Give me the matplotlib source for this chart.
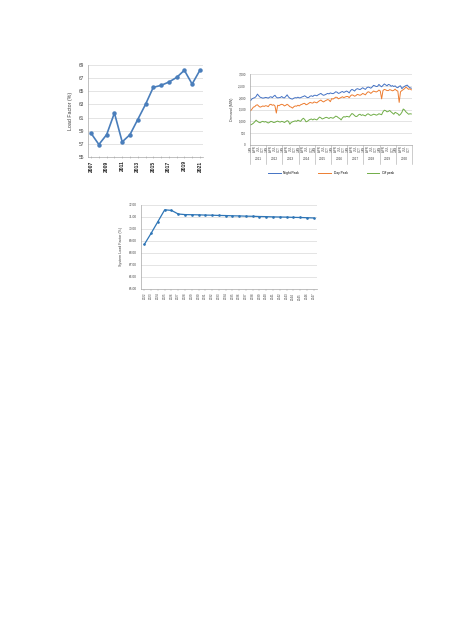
import matplotlib
matplotlib.use('Agg')
import matplotlib.pyplot as plt
import matplotlib.transforms as mtransforms
from matplotlib.ticker import FuncFormatter, MultipleLocator
import numpy as np

plt.rcParams['font.family'] = ['Liberation Sans', 'DejaVu Sans']

# --- chart 1: historic load factor
lf_years = list(range(2007, 2022))
lf_values = [58.6, 56.9, 58.4, 61.7, 57.3, 58.4, 60.7, 63.0, 65.6, 65.9,
             66.4, 67.1, 68.2, 66.1, 68.2]

# --- chart 2: monthly demand 2011-2020
dem_years = list(range(2011, 2021))
month_labels = ['JAN', 'APR', 'JUL', 'OCT']
night_peak = [
    1880, 1950, 1980, 2000, 2050, 2150, 2080, 2020, 2000, 1980, 1990, 2010,
    2000, 1980, 2020, 2040, 2000, 2060, 2100, 2020, 1990, 2000, 2010, 2050,
    2000, 1990, 2050, 2120, 2030, 1980, 1950, 1940, 1980, 2000, 1990, 2020,
    1990, 2000, 2030, 2050, 2080, 2040, 2000, 2010, 2060, 2080, 2050, 2100,
    2100, 2080, 2120, 2150, 2180, 2130, 2100, 2120, 2150, 2180, 2160, 2200,
    2180, 2170, 2200, 2250, 2230, 2180, 2200, 2240, 2260, 2220, 2250, 2280,
    2250, 2200, 2300, 2350, 2320, 2280, 2350, 2380, 2360, 2340, 2380, 2420,
    2380, 2350, 2420, 2450, 2430, 2400, 2450, 2520, 2500, 2470, 2480, 2560,
    2500, 2460, 2520, 2580, 2540, 2500, 2560, 2540, 2480, 2510, 2470, 2500,
    2440, 2420, 2480, 2500, 2380, 2440, 2480, 2510, 2530, 2460, 2420, 2400,
]
day_peak = [
    1450, 1520, 1600, 1620, 1680, 1700, 1640, 1600, 1620, 1650, 1630, 1660,
    1650, 1620, 1700, 1720, 1680, 1700, 1650, 1350, 1680, 1660, 1700, 1720,
    1700, 1650, 1680, 1720, 1680, 1620, 1600, 1560, 1620, 1650, 1640, 1680,
    1650, 1700, 1720, 1750, 1760, 1700, 1720, 1760, 1800, 1780, 1770, 1820,
    1800, 1780, 1830, 1870, 1900, 1850, 1820, 1860, 1890, 1920, 1900, 1830,
    1960, 1940, 1980, 2020, 2010, 1950, 1980, 2010, 2040, 2000, 2030, 2050,
    2050, 2000, 2080, 2120, 2100, 2060, 2090, 2140, 2120, 2100, 2130, 2180,
    2150, 2120, 2200, 2250, 2230, 2180, 2230, 2280, 2260, 2240, 2270, 2320,
    2280, 1950, 2300, 2350, 2330, 2300, 2300, 2340, 2320, 2290, 2310, 2360,
    2300, 2280, 1800, 2250, 2300, 2340, 2380, 2450, 2400, 2350, 2380, 2330,
]
off_peak = [
    850, 880, 920, 980, 1050, 1000, 960, 940, 980, 1000, 970, 990,
    960, 930, 960, 1000, 980, 950, 960, 990, 1010, 980, 970, 1000,
    980, 950, 990, 1030, 1000, 880, 950, 980, 1000, 1020, 1000, 1050,
    1020, 1000, 1080, 1130, 1080, 980, 1000, 1050, 1080, 1100, 1060, 1100,
    1080, 1060, 1120, 1180, 1150, 1100, 1120, 1150, 1170, 1150, 1120, 1160,
    1150, 1130, 1170, 1220, 1200, 1150, 1120, 1060, 1150, 1200, 1180, 1210,
    1200, 1180, 1260, 1330, 1300, 1240, 1200, 1220, 1280, 1300, 1250, 1280,
    1250, 1230, 1290, 1320, 1280, 1250, 1270, 1300, 1290, 1260, 1280, 1320,
    1300, 1280, 1400, 1470, 1450, 1400, 1420, 1460, 1400, 1350, 1300, 1380,
    1350, 1320, 1250, 1300, 1380, 1520, 1480, 1400, 1350, 1300, 1320, 1310,
]

# --- chart 3: projected system load factor
sys_years = list(range(2022, 2048))
sys_lf = [68.72, 69.65, 70.62, 71.60, 71.55, 71.25, 71.20, 71.19, 71.18,
          71.16, 71.15, 71.13, 71.12, 71.10, 71.09, 71.07, 71.06, 71.04,
          71.03, 71.01, 71.00, 70.99, 70.97, 70.96, 70.94, 70.92]

W, H = 474, 632
fig = plt.figure(figsize=(W / 100, H / 100), dpi=100)
fig.patch.set_facecolor('white')

GRID = '#d9d9d9'
AXC = '#a6a6a6'
TXT = '#404040'


def box(l, t, r, b):
    return [l / W, 1 - b / H, (r - l) / W, (b - t) / H]


def style(ax):
    for s in ('top', 'right'):
        ax.spines[s].set_visible(False)
    ax.spines['left'].set_color(AXC)
    ax.spines['bottom'].set_color(AXC)
    ax.spines['left'].set_linewidth(0.5)
    ax.spines['bottom'].set_linewidth(0.5)
    ax.yaxis.grid(True, color=GRID, linewidth=0.5)
    ax.set_axisbelow(True)


# chart 1
ax1 = fig.add_axes(box(88, 65, 203, 157))
style(ax1)
ax1.plot(lf_years, lf_values, color='#4a7ebb', lw=1.2, marker='o', ms=2.2)
ax1.set_ylim(55, 69)
ax1.set_yticks(range(55, 70, 2))
ax1.set_xlim(2006.6, 2021.4)
ax1.set_xticks(lf_years[::2])
ax1.xaxis.set_minor_locator(MultipleLocator(1))
ax1.tick_params(axis='x', which='both', direction='inout', length=2, width=0.4,
                color=AXC, labelsize=3.6, labelrotation=90, pad=1.5, labelcolor='#222222')
ax1.tick_params(axis='y', length=0, labelsize=3.4, pad=3, labelcolor=TXT)
for t in ax1.get_xticklabels():
    t.set_fontweight('bold')
ax1.set_ylabel('Load Factor (%)', fontsize=3.8, color=TXT, labelpad=4)

# chart 2
ax2 = fig.add_axes(box(250, 74, 412, 145))
style(ax2)
x = np.arange(len(night_peak))
ax2.plot(x, night_peak, color='#4472c4', lw=0.7, label='Night Peak')
ax2.plot(x, day_peak, color='#ed7d31', lw=0.7, label='Day Peak')
ax2.plot(x, off_peak, color='#70ad47', lw=0.7, label='Off peak')
ax2.set_ylim(0, 3000)
ax2.set_yticks(range(0, 3001, 500))
ax2.yaxis.set_major_formatter(FuncFormatter(lambda v, p: f'{int(v):,}'))
ax2.set_xlim(-0.5, len(x) - 0.5)
ax2.set_xticks(np.arange(0, len(x), 3))
ax2.set_xticklabels(month_labels * len(dem_years))
ax2.tick_params(axis='x', length=0, labelsize=2.0, labelrotation=90, pad=1, labelcolor=TXT)
ax2.tick_params(axis='y', length=0, labelsize=2.2, pad=3, labelcolor=TXT)
ax2.set_ylabel('Demand (MW)', fontsize=2.6, color=TXT, labelpad=3)
tr = mtransforms.blended_transform_factory(ax2.transData, ax2.transAxes)
for i, yr in enumerate(dem_years):
    ax2.text(i * 12 + 5.5, -0.2, str(yr), transform=tr, fontsize=2.3,
             ha='center', va='center', color=TXT)
for i in range(len(dem_years) + 1):
    ax2.plot([i * 12 - 0.5] * 2, [0, -0.27], transform=tr, color=AXC,
             lw=0.4, clip_on=False)
ax2.legend(loc='upper center', bbox_to_anchor=(0.5, -0.33), ncol=3,
           frameon=False, fontsize=2.3, handlelength=4, columnspacing=6,
           handletextpad=0.8)

# chart 3
ax3 = fig.add_axes(box(141, 205, 317, 289))
style(ax3)
ax3.plot(range(len(sys_years)), sys_lf, color='#2e75b6', lw=0.9,
         marker='o', ms=0.9)
ax3.set_ylim(65, 72)
ax3.set_yticks(range(65, 73))
ax3.yaxis.set_major_formatter(FuncFormatter(lambda v, p: f'{v:.2f}'))
ax3.set_xlim(-0.5, len(sys_years) - 0.5)
ax3.set_xticks(range(len(sys_years)))
ax3.set_xticklabels([str(y) for y in sys_years])
ax3.tick_params(axis='x', direction='out', length=1.2, width=0.3, color=AXC,
                labelsize=2.2, labelrotation=90, pad=1.5, labelcolor=TXT)
ax3.tick_params(axis='y', length=0, labelsize=2.3, pad=3, labelcolor=TXT)
ax3.set_ylabel('System Load Factor (%)', fontsize=2.6, color=TXT, labelpad=4)

fig.savefig('out.png', dpi=100, facecolor='white')
